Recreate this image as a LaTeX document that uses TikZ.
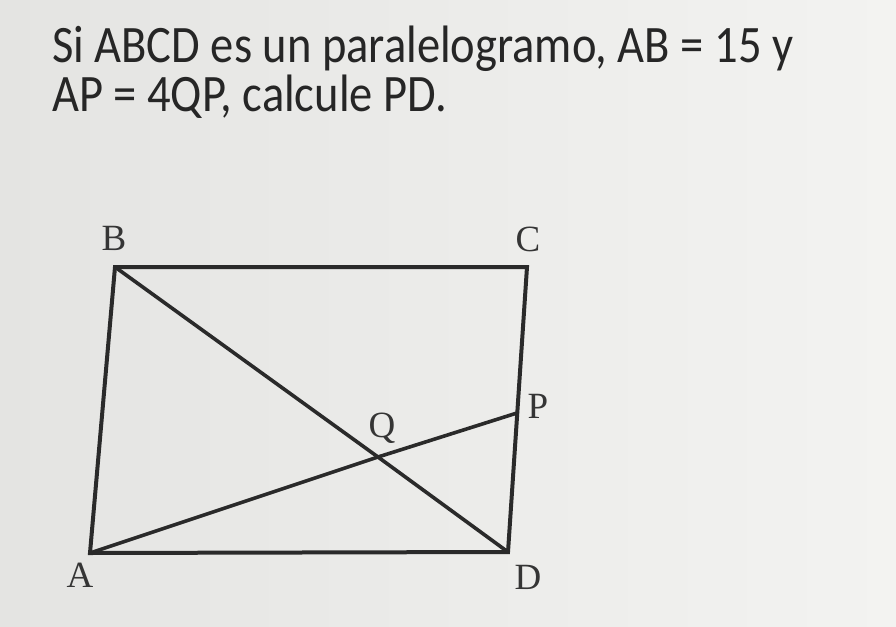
\documentclass[tikz,border=0pt]{standalone}
\usepackage{fontspec}
\setmainfont{Liberation Serif}
\newfontfamily\problemfont{Carlito}
\usetikzlibrary{positioning}
\definecolor{paper}{RGB}{228,228,226}
\definecolor{paperlight}{RGB}{243,243,241}
\definecolor{ink}{RGB}{42,42,42}

\begin{document}
\begin{tikzpicture}[
    x=1pt, y=-1pt,
    side/.style = {draw=ink, line width=4pt, line join=miter},
    diag/.style = {draw=ink, line width=3.6pt},
    vertex/.style = {text=ink!95, font=\fontsize{37}{37}\selectfont, inner sep=0pt},
    statement/.style = {anchor=base west, inner sep=0pt, text=black!85,
      font=\problemfont\fontsize{47}{47}\selectfont}
  ]

  % background of the photographed screen
  \shade[left color=paper, right color=paperlight] (0,0) rectangle (896,626);
  \useasboundingbox (0,0) rectangle (896,626);

  % statement
  \node[statement] (line1) at (52,63) {\scalebox{0.99}[1.12]{Si ABCD es un paralelogramo, AB = 15 y}};
  \node[statement] (line2) at (52,111) {\scalebox{0.99}[1.12]{AP = 4QP, calcule PD.}};

  % corners of the parallelogram
  \coordinate (A) at (90,553);
  \coordinate (B) at (115,267);
  \coordinate (C) at (527,267);
  \coordinate (D) at (508,552);
  \coordinate (P) at (517,413);
  \coordinate (Q) at (378,457);

  \draw[side] (A) -- (B) -- (C) -- (D) -- cycle;
  \draw[diag] (B) -- (Q) -- (D);
  \draw[diag] (A) -- (Q) -- (P);

  % labels
  \node[vertex] (lA) at (80,575) {A};
  \node[vertex] (lB) at (114,238) {B};
  \node[vertex] (lC) at (528,239) {C};
  \node[vertex] (lD) at (528,577) {D};
  \node[vertex] (lP) at (538,406) {P};
  \node[vertex] (lQ) at (382,428) {Q};

\end{tikzpicture}
\end{document}
